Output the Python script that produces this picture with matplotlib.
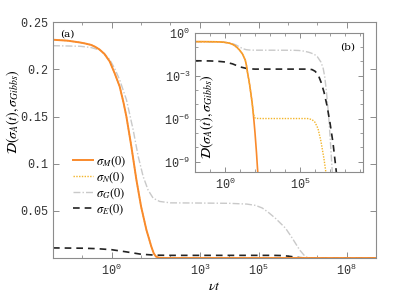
import numpy as np
import matplotlib
matplotlib.use('Agg')
import matplotlib.pyplot as plt
from matplotlib.ticker import FixedLocator, FixedFormatter, NullLocator, NullFormatter

plt.rcParams['mathtext.fontset'] = 'stix'

# log10(nu t) and distance D for each initial state
logt_M = [-2.0, -1.5, -1.08, -0.9, -0.7, -0.55, -0.41, -0.25, -0.07, 0.1, 0.27, 0.4, 0.5, 0.67, 0.84,
          1.0, 1.18, 1.35, 1.43, 1.51, 1.58, 1.65, 1.72, 1.8, 1.85, 1.9, 1.95, 2.0, 2.05, 2.1, 2.15,
          2.2, 2.3, 2.4, 9.0]
D_M = [0.2315, 0.2305, 0.2286, 0.2275, 0.226, 0.2238, 0.221, 0.2165, 0.2085, 0.196, 0.182, 0.165, 0.150,
       0.118, 0.083, 0.0546, 0.030, 0.012, 0.005, 0.0014, 5.6e-4, 2e-4, 6e-5, 1.5e-5, 5e-6, 1.5e-6, 4e-7,
       1e-7, 2e-8, 4e-9, 6e-10, 1e-10, 2e-12, 1e-14, 1e-14]

logt_N = [-2.0, -1.5, -1.08, -0.9, -0.7, -0.55, -0.41, -0.25, -0.07, 0.1, 0.27, 0.4, 0.5, 0.67, 0.84,
          1.0, 1.18, 1.35, 1.43, 1.51, 1.58, 1.65, 1.72, 1.8, 1.85, 1.9, 1.95, 2.0, 2.1, 2.5, 5.5,
          5.8, 6.0, 6.2, 6.4, 6.6, 6.8, 7.0, 7.2, 9.0]
D_N = [0.2315, 0.2305, 0.2286, 0.2275, 0.226, 0.2238, 0.221, 0.2165, 0.2085, 0.196, 0.182, 0.165, 0.150,
       0.118, 0.083, 0.0546, 0.030, 0.012, 0.005, 0.0014, 5.6e-4, 2e-4, 6e-5, 1.5e-5, 5.5e-6, 2.2e-6, 1.3e-6,
       1.08e-6, 1.02e-6, 1e-6, 1e-6, 8.5e-7, 5.5e-7, 2e-7, 2.5e-8, 1.5e-9, 5e-11, 1e-12, 1e-14, 1e-14]

logt_G = [-2.0, -1.08, -0.7, -0.41, -0.25, -0.07, 0.1, 0.27, 0.5, 0.73, 0.9, 1.07, 1.24, 1.41, 1.63,
          2.0, 3.0, 4.0, 4.6, 4.9, 5.13, 5.35, 5.58, 5.92, 6.15, 6.4, 6.55, 6.65, 6.75, 6.85, 6.95,
          7.05, 7.15, 7.25, 7.35, 9.0]
D_G = [0.2252, 0.2246, 0.2232, 0.2206, 0.2166, 0.2106, 0.201, 0.189, 0.168, 0.136, 0.108, 0.0865, 0.072,
       0.0635, 0.060, 0.0585, 0.0583, 0.058, 0.0572, 0.0558, 0.053, 0.048, 0.042, 0.0316, 0.021, 0.0085,
       0.003, 8e-4, 1e-4, 8e-6, 4e-7, 1e-8, 2e-10, 2e-12, 1e-14, 1e-14]

logt_E = [-2.0, -1.0, -0.5, 0.0, 0.5, 1.0, 1.5, 2.0, 5.5, 5.8, 6.0, 6.2, 6.4, 6.6, 6.8, 7.0,
          7.2, 7.4, 7.6, 7.8, 9.0]
D_E = [0.0107, 0.0104, 0.0099, 0.0088, 0.0065, 0.0040, 0.0030, 0.0028, 0.0028, 0.0026, 0.0020, 0.0012,
       3.5e-4, 7e-5, 8e-6, 5e-7, 2e-8, 3e-10, 3e-12, 1e-14, 1e-14]

labels = [r'$\sigma_M(0)$', r'$\sigma_N(0)$', r'$\sigma_G(0)$', r'$\sigma_E(0)$']

c_M = '#f98a2c'
c_N = '#f3b52a'
c_G = '#c9c9c9'
c_E = '#222222'
frame = '#8c8c8c'
mono = 'Liberation Mono'

fig = plt.figure(figsize=(4.15, 2.95), dpi=100)
ax = fig.add_axes([0.1277, 0.1254, 0.7783, 0.799])

t_M = 10.0 ** np.array(logt_M)
t_N = 10.0 ** np.array(logt_N)
t_G = 10.0 ** np.array(logt_G)
t_E = 10.0 ** np.array(logt_E)

lG, = ax.plot(t_G, D_G, color=c_G, lw=1.0, dashes=(5, 1.5, 1, 1.5))
lE, = ax.plot(t_E, D_E, color=c_E, lw=1.2, dashes=(4, 3))
lN, = ax.plot(t_N, D_N, color=c_N, lw=1.0, ls=(0, (1, 1)))
lM, = ax.plot(t_M, D_M, color=c_M, lw=1.4)

ax.set_xscale('log')
ax.set_xlim(1e-2, 1e9)
ax.set_ylim(0, 0.25)

ax.xaxis.set_major_locator(FixedLocator([1e0, 1e3, 1e5, 1e8]))
ax.xaxis.set_major_formatter(FixedFormatter([r'$\mathdefault{10^{0}}$', r'$\mathdefault{10^{3}}$',
                                             r'$\mathdefault{10^{5}}$', r'$\mathdefault{10^{8}}$']))
ax.xaxis.set_minor_locator(FixedLocator([10.0 ** k for k in range(-2, 10)]))
ax.xaxis.set_minor_formatter(NullFormatter())
ax.yaxis.set_major_locator(FixedLocator([0.05, 0.1, 0.15, 0.2, 0.25]))
ax.yaxis.set_major_formatter(FixedFormatter(['0.05', '0.1', '0.15', '0.2', '0.25']))
ax.yaxis.set_minor_locator(NullLocator())

ax.tick_params(which='both', direction='in', top=True, right=True, color=frame,
               labelsize=8.5, labelcolor='#333333')
ax.tick_params(which='major', length=4, width=0.7)
ax.tick_params(which='minor', length=2.5, width=0.6)
for s in ax.spines.values():
    s.set_color(frame)
    s.set_linewidth(0.8)
for lab in ax.get_xticklabels() + ax.get_yticklabels():
    lab.set_family(mono)

ax.set_xlabel(r'$\nu t$', fontsize=10, labelpad=1)
ax.set_ylabel(r'$\mathcal{D}(\sigma_A(t),\sigma_{Gibbs})$', fontsize=10)
ax.yaxis.set_label_coords(-0.095, 0.62)
ax.text(0.022, 0.97, '(a)', transform=ax.transAxes, family='DejaVu Serif', fontsize=7.5,
        va='top', ha='left')

ax.legend([lM, lN, lG, lE], labels, loc='upper left', bbox_to_anchor=(0.062, 0.44),
          frameon=False, fontsize=9, handlelength=1.6, handletextpad=0.2, labelspacing=0.1,
          borderpad=0, borderaxespad=0)

# inset, log-log
axi = fig.add_axes([0.4699, 0.4169, 0.4048, 0.4729])
axi.plot(t_G, D_G, color=c_G, lw=1.0, dashes=(5, 1.5, 1, 1.5))
axi.plot(t_E, D_E, color=c_E, lw=1.2, dashes=(4, 3))
axi.plot(t_M, D_M, color=c_M, lw=1.2)
axi.plot(t_N, D_N, color=c_N, lw=1.0, ls=(0, (1, 1)))
axi.set_xscale('log')
axi.set_yscale('log')
axi.set_xlim(1e-2, 10 ** 9.2)
axi.set_ylim(10 ** -9.73, 1.0)

axi.xaxis.set_major_locator(FixedLocator([1e0, 1e5]))
axi.xaxis.set_major_formatter(FixedFormatter([r'$\mathdefault{10^{0}}$', r'$\mathdefault{10^{5}}$']))
axi.xaxis.set_minor_locator(FixedLocator([10.0 ** k for k in range(-2, 10)]))
axi.xaxis.set_minor_formatter(NullFormatter())
axi.yaxis.set_major_locator(FixedLocator([1e0, 1e-3, 1e-6, 1e-9]))
axi.yaxis.set_major_formatter(FixedFormatter([r'$\mathdefault{10^{0}}$', r'$\mathdefault{10^{-3}}$',
                                              r'$\mathdefault{10^{-6}}$', r'$\mathdefault{10^{-9}}$']))
axi.yaxis.set_minor_locator(FixedLocator([10.0 ** -k for k in range(0, 10)]))
axi.yaxis.set_minor_formatter(NullFormatter())
axi.tick_params(which='both', direction='in', top=True, right=True, color=frame,
                labelsize=8.5, labelcolor='#333333')
axi.tick_params(which='major', length=3.5, width=0.7)
axi.tick_params(which='minor', length=2, width=0.6)
for s in axi.spines.values():
    s.set_color(frame)
    s.set_linewidth(0.8)
for lab in axi.get_xticklabels() + axi.get_yticklabels():
    lab.set_family(mono)

axi.text(0.072, 0.394, r'$\mathcal{D}(\sigma_A(t),\sigma_{Gibbs})$', transform=axi.transAxes,
         rotation=90, fontsize=10, ha='center', va='center')
axi.text(0.955, 0.93, '(b)', transform=axi.transAxes, family='DejaVu Serif', fontsize=7.5,
         va='top', ha='right')

fig.savefig('out.png', dpi=100)
